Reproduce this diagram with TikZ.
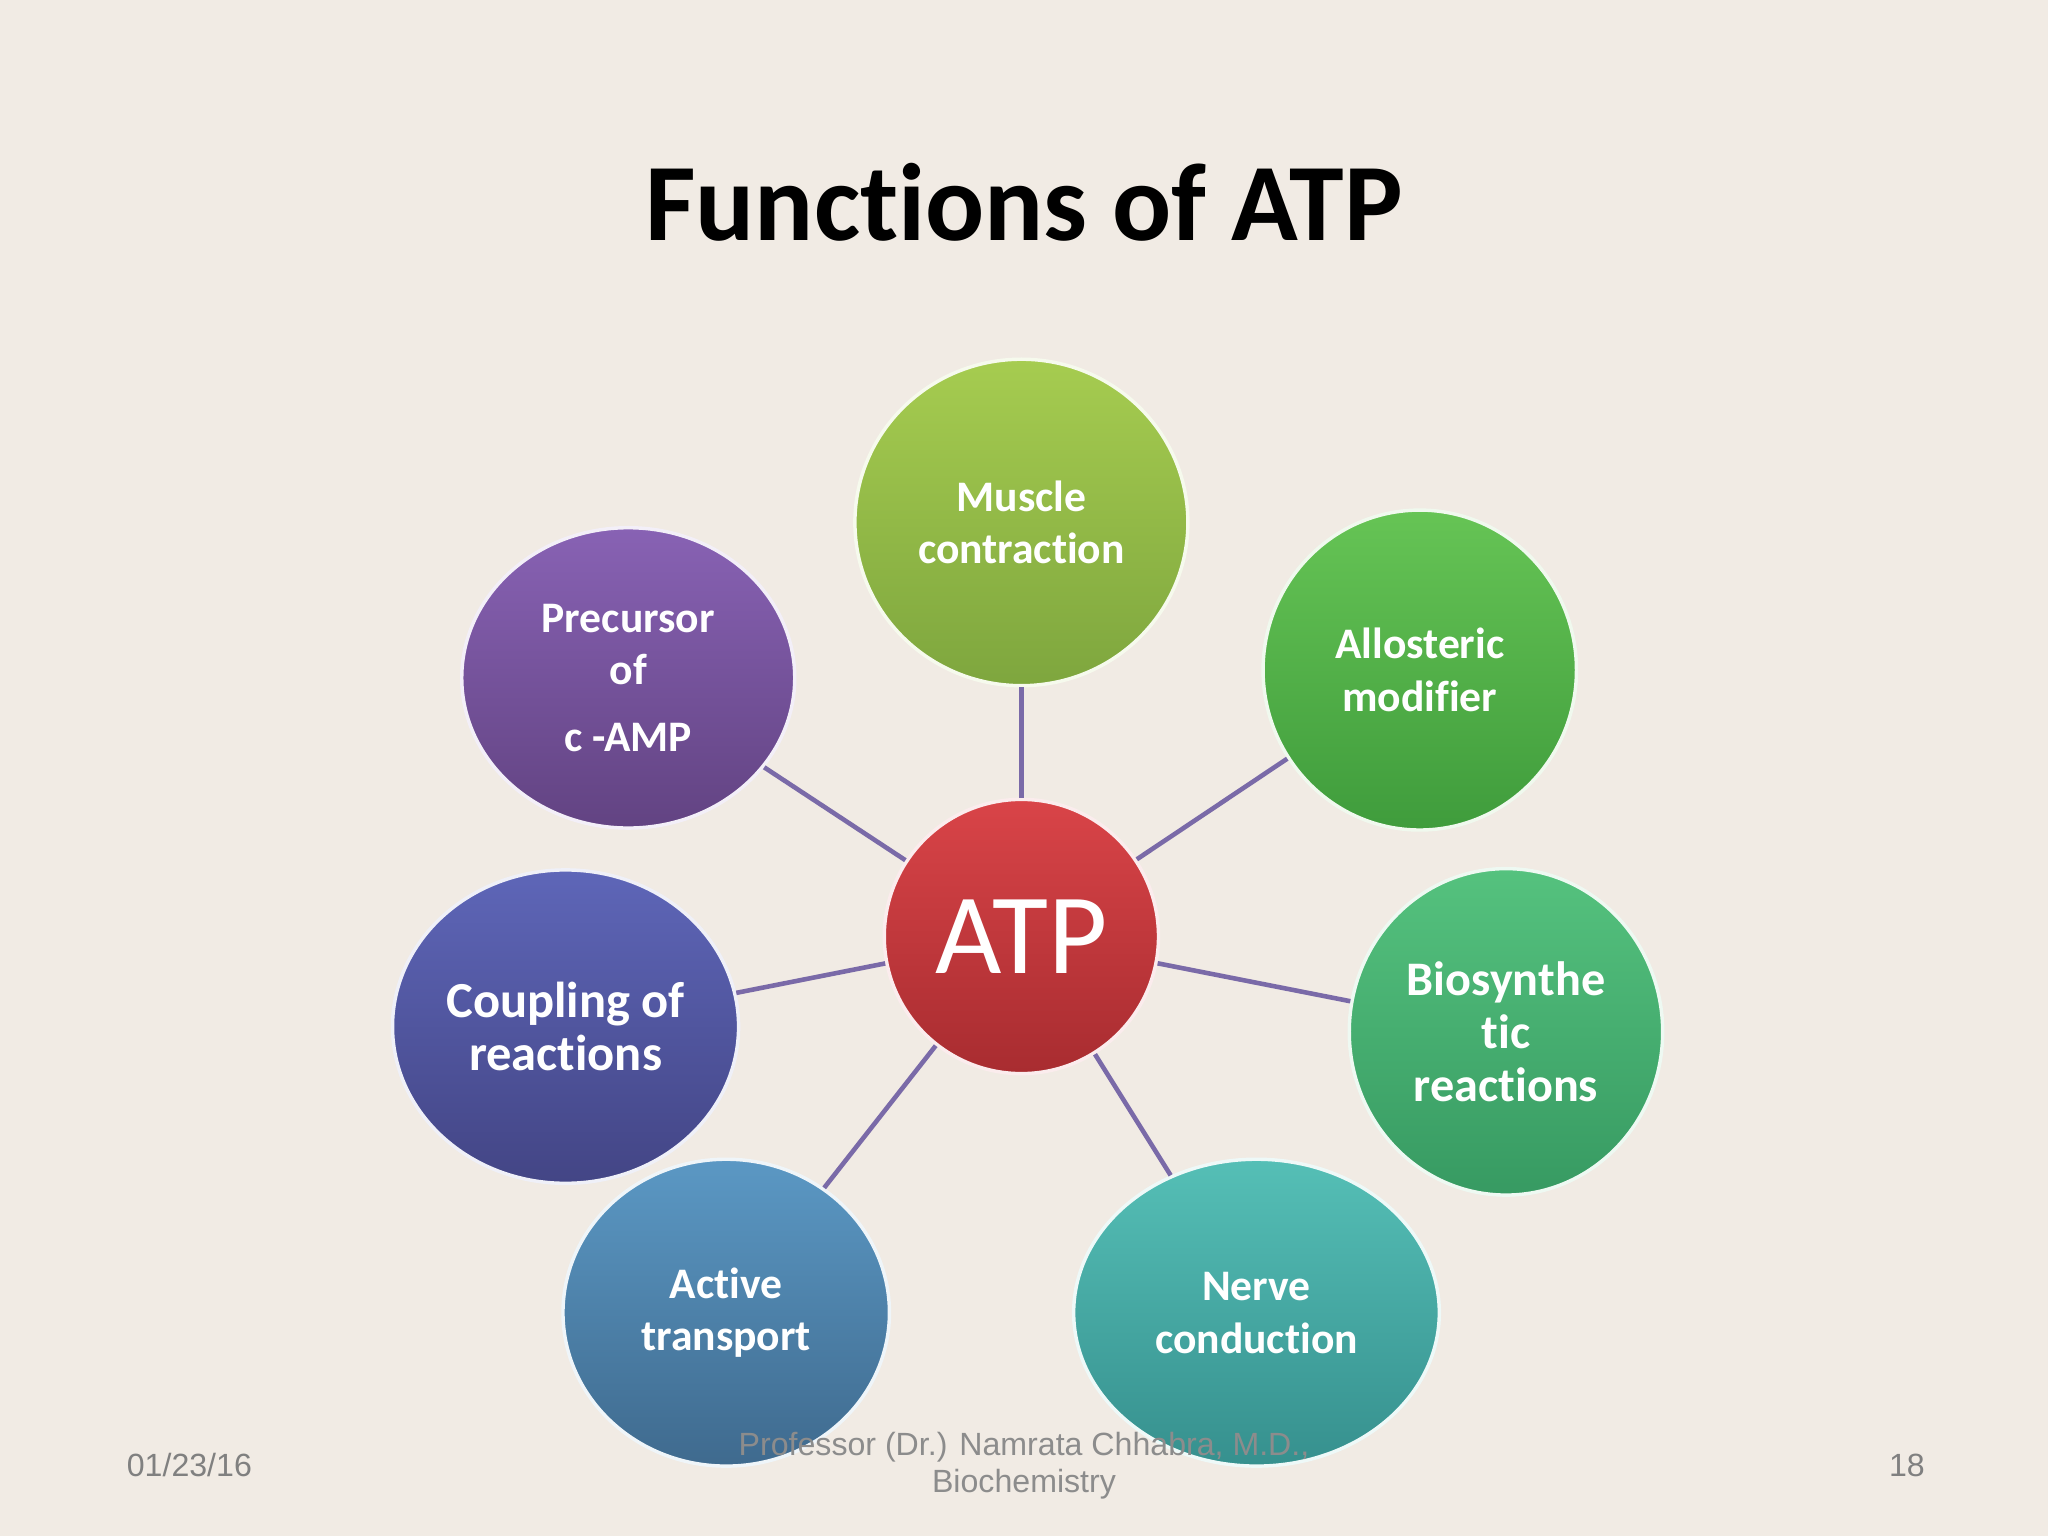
\documentclass[tikz,border=0pt]{standalone}
\usepackage{fontspec}
\setmainfont[Ligatures={NoCommon}]{Carlito}
\newfontfamily\footfont{Liberation Sans}
\usetikzlibrary{shapes.geometric}
\definecolor{bg}{HTML}{F1EBE4}
\definecolor{conn}{HTML}{7A6AA8}
\definecolor{musA}{HTML}{A6CC50}\definecolor{musB}{HTML}{7EA63E}
\definecolor{allA}{HTML}{66C455}\definecolor{allB}{HTML}{3F9C3C}
\definecolor{bioA}{HTML}{55C27E}\definecolor{bioB}{HTML}{379A62}
\definecolor{nerA}{HTML}{55BFB6}\definecolor{nerB}{HTML}{36908E}
\definecolor{actA}{HTML}{5B98C4}\definecolor{actB}{HTML}{3F6A8E}
\definecolor{couA}{HTML}{5E66B8}\definecolor{couB}{HTML}{434585}
\definecolor{preA}{HTML}{8862B4}\definecolor{preB}{HTML}{624382}
\definecolor{atpA}{HTML}{D94448}\definecolor{atpB}{HTML}{A82C30}
\tikzset{
 ball/.style n args={4}{ellipse, minimum width=#1, minimum height=#2, top color=#3, bottom color=#4, draw=white!90!#3, line width=1.5pt, text=white, font=\bfseries\fontsize{19}{23}\selectfont, align=center, inner sep=0pt},
 conline/.style={draw=conn, line width=2pt}
}
\begin{document}
\begin{tikzpicture}[x=0.02cm,y=-0.02cm]
\fill[bg] (0,0) rectangle (1568,1176);
\useasboundingbox (0,0) rectangle (1568,1176);
\node (title) at (784,155) {\bfseries\fontsize{48}{56}\selectfont Functions of ATP};
\node[ball={5.1cm}{5cm}{musA}{musB}] (mus) at (782,400) {Muscle\\contraction};
\node[ball={4.8cm}{4.9cm}{allA}{allB}] (all) at (1087,513) {Allosteric\\modifier};
\node[ball={4.8cm}{5cm}{bioA}{bioB}] (bio) at (1153,790) {\fontsize{21}{26}\selectfont Biosynthe\\\fontsize{21}{26}\selectfont tic\\\fontsize{21}{26}\selectfont reactions};
\node[ball={5.6cm}{4.7cm}{nerA}{nerB}] (ner) at (962,1005) {Nerve\\conduction};
\node[ball={5cm}{4.7cm}{actA}{actB}] (act) at (556,1005) {Active\\transport};
\node[ball={5.3cm}{4.8cm}{couA}{couB}] (cou) at (433,786) {\fontsize{22}{26}\selectfont Coupling of\\\fontsize{22}{26}\selectfont reactions};
\node[ball={5.1cm}{4.6cm}{preA}{preB}] (pre) at (481,519) {Precursor\\of\\[6pt]c -AMP};
\node[ball={4.2cm}{4.2cm}{atpA}{atpB}, font=\fontsize{50}{56}\selectfont] (atp) at (782,717) {ATP};
\foreach \n in {mus,all,bio,ner,act,cou,pre} \draw[conline] (atp) -- (\n);
\node[font=\footfont\fontsize{14}{16}\selectfont, text=gray] (date) at (145,1122) {01/23/16};
\node[font=\footfont\fontsize{14}{16}\selectfont, text=gray!90, align=center] (auth) at (784,1122) {Professor (Dr.) Namrata Chhabra, M.D.,\\Biochemistry};
\node[font=\footfont\fontsize{14}{16}\selectfont, text=gray] (pg) at (1460,1122) {18};
\end{tikzpicture}
\end{document}
